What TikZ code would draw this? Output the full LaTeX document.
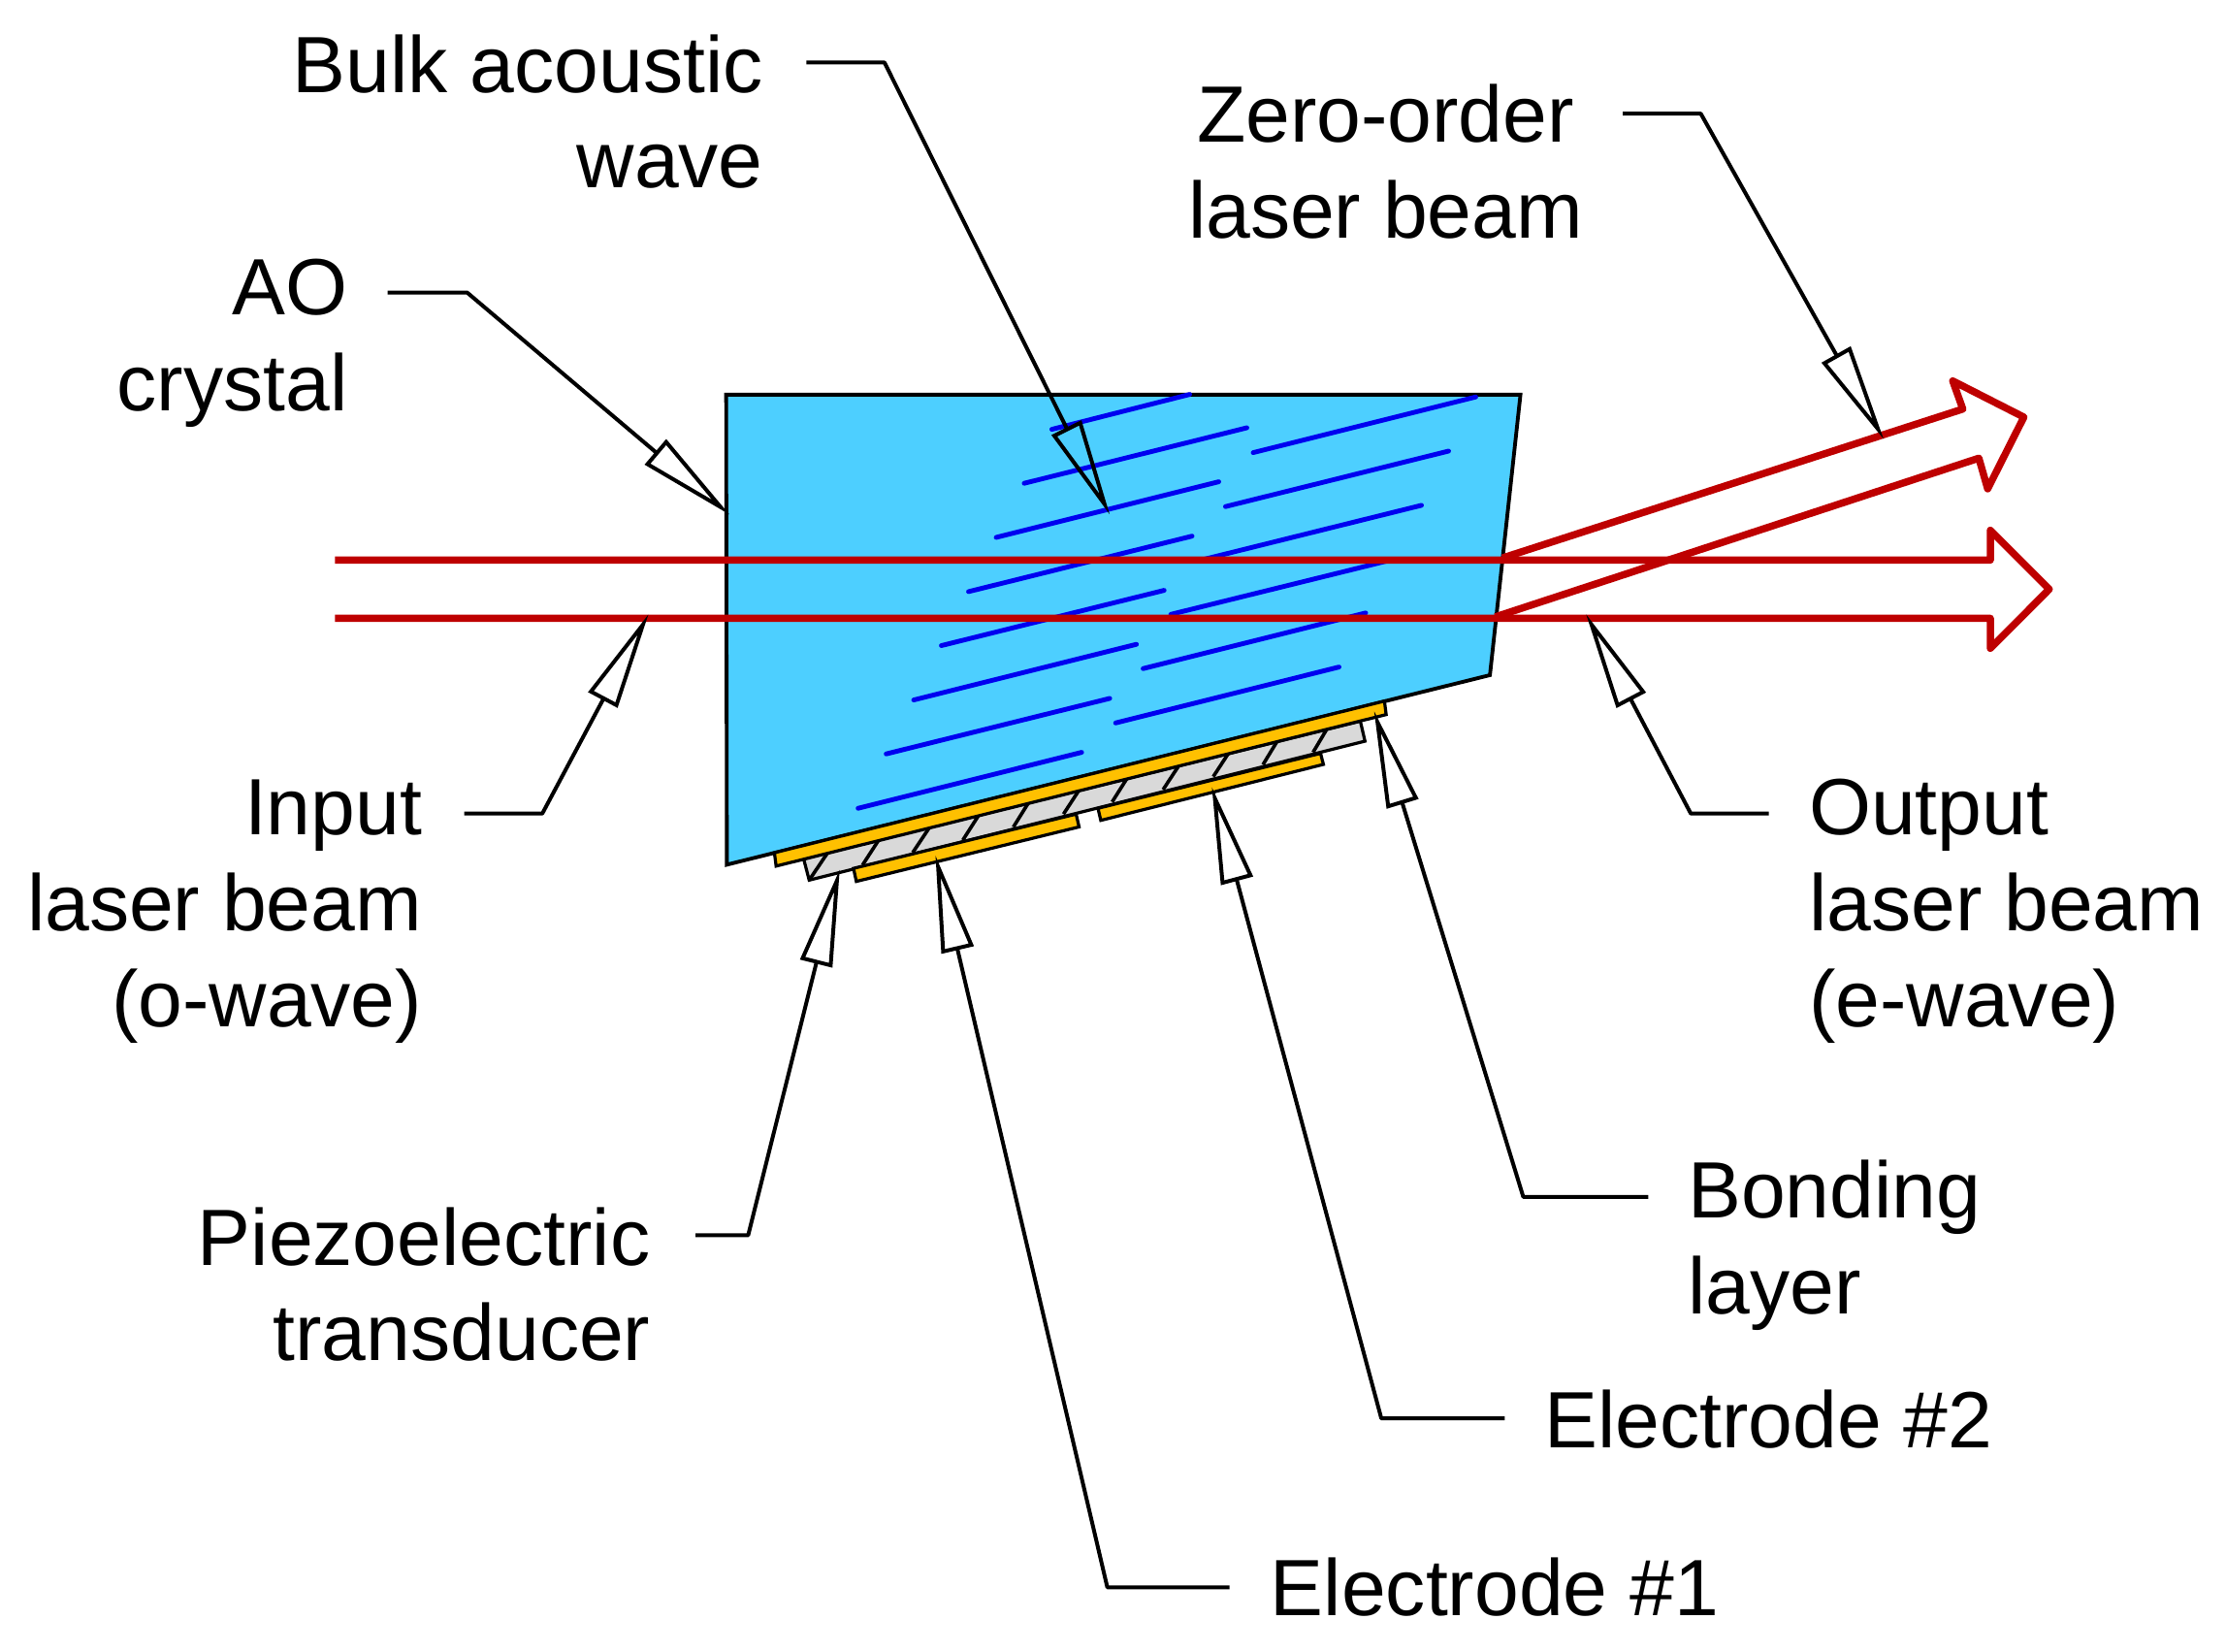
\documentclass[tikz,border=0pt]{standalone}
\usepackage{fontspec}
\setmainfont{Liberation Sans}
\usetikzlibrary{arrows.meta,calc}
\definecolor{crystal}{HTML}{4DCFFF}
\definecolor{bondorange}{HTML}{FFC000}
\definecolor{piezogray}{HTML}{D9D9D9}
\definecolor{beamred}{HTML}{BE0000}
\definecolor{wavebl}{HTML}{0000F0}
\tikzset{
  x=0.02cm,y=-0.02cm,
  lab/.style={inner sep=0pt,outer sep=0pt,font=\fontsize{32}{38.4}\selectfont},
  labr/.style={lab,align=right,anchor=north east},
  labl/.style={lab,align=left,anchor=north west},
  labc/.style={lab,align=center,anchor=north},
  outline/.style={draw=black,line width=1.5pt,line join=miter},
  thinlayer/.style={draw=black,line width=1.25pt,line join=miter},
  wave/.style={draw=wavebl,line width=1.9pt,line cap=round},
  hatchline/.style={draw=black,line width=1.4pt},
  beam/.style={draw=beamred,line width=2.9pt,line join=round},
  leader/.style={draw=black,line width=1.55pt,line join=round,shorten >=-2.2pt,
    -{Triangle[length=39pt,width=13pt,fill=white]}},
  leaderopen/.style={leader,-{Triangle[length=39pt,width=13pt,open]}},
}
\begin{document}
\begin{tikzpicture}
\useasboundingbox (0,0) rectangle (1568,1163.5);
% crystal
\path[outline,fill=crystal] (511.5,278) -- (1071,278) -- (1049.5,475.5) -- (512,609) -- cycle;
% acoustic wave fronts
\foreach \a/\b/\c/\d in {
 740.9/302.4/838/277.8, 721.4/340.4/878.3/301.3, 701.7/378.5/858.5/339.3,
 682.2/416.7/839.7/377.6, 663.1/454.7/820/415.8, 643.6/493/800.5/453.8,
 624.2/531/781.7/491.9, 604.4/569.3/761.9/529.9,
 882.7/318.8/1039.5/279.6, 863.2/356.8/1020.4/317.7, 843.8/395/1001.3/355.9,
 824.7/432.7/981.5/394, 805.2/470.9/962/431.7, 785.8/509.2/943.2/469.8}
  {\draw[wave] (\a,\b) -- (\c,\d);}
% transducer
\path[thinlayer,fill=piezogray] (566,604.6) -- (958.2,507.9) -- (961.5,522) -- (570,619.9) -- cycle;
\foreach \a/\b/\c/\d in {
 570/619.9/583.4/600, 607.6/609.2/619/591.6, 642.9/600.5/654.9/582.5,
 678.2/591.7/689.6/573.9, 713.8/582.5/724.6/565.2, 749.1/573.4/759.9/556.8,
 783.4/564.8/794.2/547.7, 819.3/556.1/830.8/538.6, 854.6/547/865.7/530,
 889.6/538.6/900/521.5, 924.9/529.9/935.3/512.4}
  {\draw[hatchline] (\a,\b) -- (\c,\d);}
% bonding layer and electrodes
\path[thinlayer,fill=bondorange] (545.5,600.6) -- (975.2,493.8) -- (976.4,503.3) -- (546.7,610) -- cycle;
\path[thinlayer,fill=bondorange] (601.2,611.6) -- (758,573.4) -- (760.1,582.4) -- (603.2,620.8) -- cycle;
\path[thinlayer,fill=bondorange] (773.4,569.3) -- (930.2,530.6) -- (932.2,538.4) -- (775.4,577.8) -- cycle;
% beams
\coordinate (inA) at (236,394.5);
\coordinate (inB) at (236,435.5);
\draw[beam] (inA) -- (1402,394.5) -- (1402,373.5) -- (1443.5,415) -- (1402,456.6) -- (1402,435.5) -- (inB);
\draw[beam] (1058.3,393) -- (1382.6,288.1) -- (1375.5,268.3) -- (1425.6,293.8) -- (1400.1,344.3) -- (1393.9,322.7) -- (1053.2,434.5);
% labels
\node[labr] (bulk) at (537.5,17.8) {\strut Bulk acoustic\\wave};
\node[labc] (zero) at (976,52.8) {\strut Zero-order\\laser beam};
\node[labr] (ao) at (245,174.8) {\strut AO\\crystal};
\node[labr] (input) at (297.3,540.8) {\strut Input\\laser beam\\(o-wave)};
\node[labl] (output) at (1274.3,540.8) {\strut Output\\laser beam\\(e-wave)};
\node[labr] (piezo) at (458,843.8) {\strut Piezoelectric\\transducer};
\node[labl] (bonding) at (1189,810.8) {\strut Bonding\\layer};
\node[labl] (el2) at (1088,972.8) {\strut Electrode \#2};
\node[labl] (el1) at (895,1090.8) {\strut Electrode \#1};
% targets
\coordinate (tBulk) at (780,359);
\coordinate (tZero) at (1325,306);
\coordinate (tAO) at (511,360);
\coordinate (tInput) at (455,436);
\coordinate (tOutput) at (1119,436);
\coordinate (tPiezo) at (590.6,616);
\coordinate (tEl1) at (659.8,606.2);
\coordinate (tEl2) at (854.6,558);
\coordinate (tBond) at (969,504.4);
% leaders
\draw[leaderopen] ($(bulk.north east)+(30.5,26.2)$) -- (623,44) -- (tBulk);
\draw[leader] ($(zero.north east)+(28,27.2)$) -- (1198,80) -- (tZero);
\draw[leader] ($(ao.north east)+(28,31.2)$) -- (329,206) -- (tAO);
\draw[leader] ($(input.north east)+(29.7,32.2)$) -- (382,573) -- (tInput);
\draw[leader] ($(output.north west)+(-28.3,32.2)$) -- (1191,573) -- (tOutput);
\draw[leader] ($(piezo.north east)+(32,26.2)$) -- (527,870) -- (tPiezo);
\draw[leader] ($(el1.north west)+(-29,27.2)$) -- (780,1118) -- (tEl1);
\draw[leader] ($(el2.north west)+(-28,26.2)$) -- (973,999) -- (tEl2);
\draw[leader] ($(bonding.north west)+(-28,32.2)$) -- (1073,843) -- (tBond);
\end{tikzpicture}
\end{document}
